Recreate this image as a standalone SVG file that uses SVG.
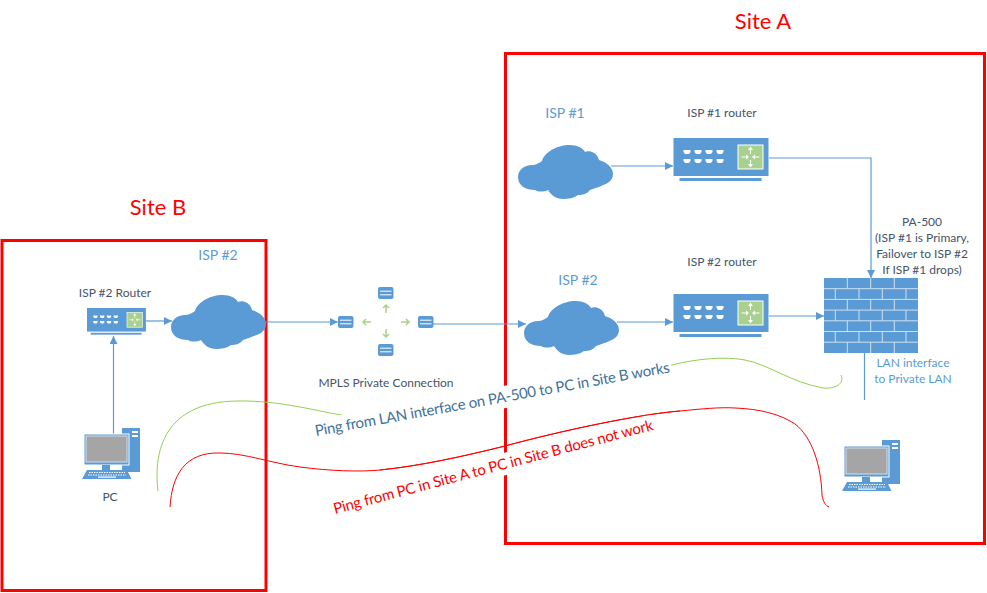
<svg xmlns="http://www.w3.org/2000/svg" xmlns:xlink="http://www.w3.org/1999/xlink" width="987" height="593" viewBox="0 0 987 593">
<style>
text{font-family:Lato,"Open Sans","Liberation Sans",sans-serif}
.frame{fill:none;stroke:#f00;stroke-width:3}
.title{font-size:22px;fill:#f00;text-anchor:middle}
.isp{font-size:14px;fill:#5b9bd5;text-anchor:middle}
.lbl{font-size:12px;fill:#44546a;text-anchor:middle}
.blue{font-size:12px;fill:#5b9bd5;text-anchor:middle}
.conn{fill:none;stroke:#5b9bd5;stroke-width:1.200}
.cloud{fill:#5b9bd5}
.gr{fill:none;stroke:#a9d18e;stroke-width:1.500}
.mbox{fill:#5b9bd5}
</style>
<defs>
<marker id="arr" markerUnits="userSpaceOnUse" markerWidth="8" markerHeight="8" refX="8" refY="4" orient="auto"><path d="M0 0L8 4L0 8Z" fill="#5b9bd5"/></marker>
<path id="cloudShape" d="M0 32C0 25 6 20 14 20C18 20 21 18 24 16C26 8 38 0 52 0C59 0 65 3 67 7C71 5 79 7 81 15C88 17 95 22 95 29C95 38 86 40 72 45C69 49 65 50 60 50C56 53 50 54 45 54C38 54 33 50 30 45C26 47 20 47 17 45C8 45 0 41 0 32Z"/>
<g id="routerShape">
<rect x="0" y="0" width="95" height="38" fill="#5b9bd5"/>
<rect x="6" y="40" width="82" height="3" fill="#5b9bd5"/>
<rect x="64.500" y="7" width="25" height="24" fill="#a9d18e" stroke="#fff" stroke-width="1"/>
<path d="M77 10V16M77 22V28M68 19H74M80 19H86" stroke="#fff" stroke-width="1" fill="none"/>
<path d="M77 8.500l-2.500 3.500h5zM77 29.500l-2.500-3.500h5zM75.500 19l-3-2.500v5zM78.500 19l3-2.500v5z" fill="#fff"/>
<g fill="#fff">
<path d="M10 12h7v2l-1.500 2h-4l-1.500-2zM21 12h7v2l-1.500 2h-4l-1.500-2zM32 12h7v2l-1.500 2h-4l-1.500-2zM43 12h7v2l-1.500 2h-4l-1.500-2z"/>
<path d="M10 21h7v2l-1.500 2h-4l-1.500-2zM21 21h7v2l-1.500 2h-4l-1.500-2zM32 21h7v2l-1.500 2h-4l-1.500-2zM43 21h7v2l-1.500 2h-4l-1.500-2z"/>
</g>
</g>
<g id="pcShape">
<rect x="122" y="428" width="18" height="44" fill="#5b9bd5"/>
<rect x="132" y="431" width="6" height="2" fill="#fff"/>
<rect x="132" y="435" width="6" height="2" fill="#fff"/>
<rect x="84" y="434" width="45" height="31" fill="#5b9bd5" stroke="#fff" stroke-width="1"/>
<rect x="86" y="436" width="41" height="26" fill="#a5a5a5" stroke="#cfe0f1" stroke-width="1"/>
<rect x="102" y="465" width="8" height="5" fill="#5b9bd5"/>
<path d="M87 470H127L131.500 479H82Z" fill="#5b9bd5"/>
<path d="M89 472.500H125M88 475H126" stroke="#fff" stroke-width="1.200" stroke-dasharray="1.500 1" fill="none"/>
<rect x="98" y="476.500" width="18" height="1.200" fill="#fff"/>
</g>
<g id="mplsBox">
<rect x="0" y="0" width="15.500" height="12" rx="2" class="mbox"/>
<path d="M2 4.200H13.500M2 7.800H13.500" stroke="#fff" stroke-width="1"/>
</g>
</defs>
<rect width="987" height="593" fill="#fff"/>
<g id="frames">
<rect id="site-a-frame" class="frame" x="505.500" y="53.500" width="479" height="490"/>
<rect id="site-b-frame" class="frame" x="2" y="240.500" width="264" height="350"/>
</g>
<g id="connectors">
<path class="conn" d="M611 166H673" marker-end="url(#arr)"/>
<path class="conn" d="M769 158H871V278" marker-end="url(#arr)"/>
<path class="conn" d="M617 322H673" marker-end="url(#arr)"/>
<path class="conn" d="M769 316H824" marker-end="url(#arr)"/>
<path class="conn" d="M864.500 353V400"/>
<path class="conn" d="M113.500 434V336" marker-end="url(#arr)"/>
<path class="conn" d="M146 321H172" marker-end="url(#arr)"/>
<path class="conn" d="M265 322H338" marker-end="url(#arr)"/>
<path class="conn" d="M433 324H526" marker-end="url(#arr)"/>
<path id="green-curve" fill="none" stroke="#92d050" stroke-width="1" d="M158 491C153 450 165 402 237 401C280 400 320 412 347 416L672 365C695 359 725 356 745 360C770 365 790 382 823 388C835 389 845 384 841 375"/>
<path id="red-curve-back" fill="none" stroke="#f00" stroke-width="1" d="M170 507C172 475 185 452 220 453C245 453 270 463 300 467C330 471 360 472 380 470C420 466 465 456 505 446C560 431 640 414 680 411C700 409 720 407 735 408C760 409 780 414 795 424C812 437 821 465 822 495C823 502 826 506 829 507"/>
</g>
<g id="cloud-isp1"><use href="#cloudShape" class="cloud" x="518" y="145"/></g>
<g id="cloud-isp2"><use href="#cloudShape" class="cloud" x="524" y="301"/></g>
<g id="cloud-siteb"><use href="#cloudShape" class="cloud" x="171" y="295"/></g>
<g id="router-isp1"><use href="#routerShape" transform="translate(673.500 138)"/></g>
<g id="router-isp2"><use href="#routerShape" transform="translate(673.500 294)"/></g>
<g id="router-siteb"><use href="#routerShape" transform="translate(87 308) scale(.62)"/></g>
<g id="firewall">
<rect x="824" y="278" width="94" height="75" fill="#5b9bd5"/>
<path d="M824 288.700H918M824 299.400H918M824 310.100H918M824 320.800H918M824 331.500H918M824 342.200H918" stroke="#cfe0f1" stroke-width="1"/>
<path d="M847.300 278v10.700M870.700 278v10.700M894.300 278v10.700M835.300 288.700v10.700M859 288.700v10.700M882.300 288.700v10.700M906 288.700v10.700M847.300 299.400v10.700M870.700 299.400v10.700M894.300 299.400v10.700M835.300 310.100v10.700M859 310.100v10.700M882.300 310.100v10.700M906 310.100v10.700M847.300 320.800v10.700M870.700 320.800v10.700M894.300 320.800v10.700M835.300 331.500v10.700M859 331.500v10.700M882.300 331.500v10.700M906 331.500v10.700M847.300 342.200v10.800M870.700 342.200v10.800M894.300 342.200v10.800" stroke="#cfe0f1" stroke-width="1"/>
</g>
<g id="pc-siteb"><use href="#pcShape"/></g>
<g id="pc-sitea"><use href="#pcShape" transform="translate(760 12)"/></g>
<g id="mpls">
<use href="#mplsBox" x="338" y="316"/>
<use href="#mplsBox" x="378" y="287"/>
<use href="#mplsBox" x="418" y="316"/>
<use href="#mplsBox" x="378" y="344"/>
<path class="gr" d="M386 313V305M383 308L386 305L389 308M386 329V337M383 334L386 337L389 334M371 322H363M366 319L363 322L366 325M401 322H409M406 319L409 322L406 325"/>
</g>
<g id="labels">
<text class="title" x="763" y="29">Site A</text>
<text class="title" x="158" y="215">Site B</text>
<text class="isp" x="565" y="118">ISP #1</text>
<text class="isp" x="578" y="285">ISP #2</text>
<text class="isp" x="218" y="260">ISP #2</text>
<text class="lbl" x="722" y="117">ISP #1 router</text>
<text class="lbl" x="722" y="266">ISP #2 router</text>
<text class="lbl" x="115" y="297">ISP #2 Router</text>
<text class="lbl" x="110" y="501">PC</text>
<text class="lbl" x="386" y="387">MPLS Private Connection</text>
<text class="lbl" x="922" y="226">PA-500</text>
<text class="lbl" x="922" y="242">(ISP #1 is Primary,</text>
<text class="lbl" x="922" y="258">Failover to ISP #2</text>
<text class="lbl" x="922" y="274">If ISP #1 drops)</text>
<text class="blue" x="913" y="367">LAN interface</text>
<text class="blue" x="913" y="383">to Private LAN</text>
</g>
<g id="ping-ok" transform="translate(316 436) rotate(-10.200)">
<rect x="0" y="-16" width="362" height="22" fill="#fff"/>
<text x="0" y="0" font-size="15" fill="#41719c" textLength="360">Ping from LAN interface on PA-500 to PC in Site B works</text>
</g>
<g id="ping-fail" transform="translate(335 514) rotate(-14.800)">
<rect x="0" y="-16" width="331" height="22" fill="#fff"/>
<text x="0" y="0" font-size="15" fill="#f00" textLength="330">Ping from PC in Site A to PC in Site B does not work</text>
</g>
<path id="red-curve" fill="none" stroke="#f00" stroke-width="1" d="M380 470C420 466 465 456 505 446C560 431 640 414 680 411"/>
</svg>
